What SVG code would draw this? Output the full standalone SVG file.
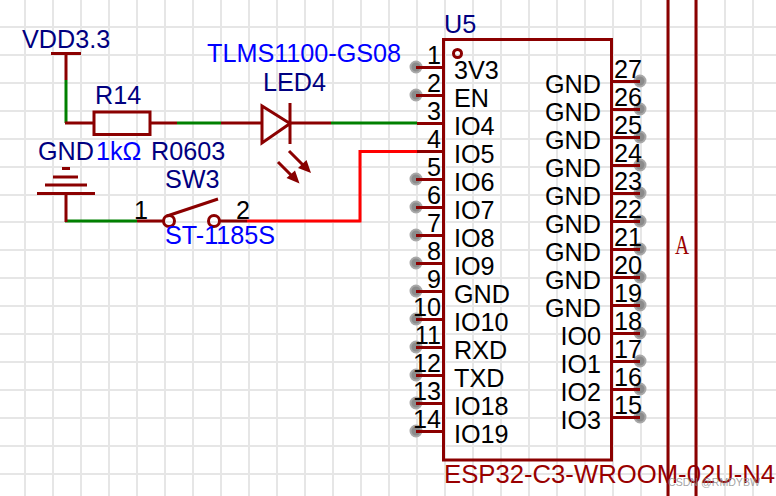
<svg xmlns="http://www.w3.org/2000/svg" width="776" height="496" viewBox="0 0 776 496">
<style>
.g{stroke:#e6e6e6;stroke-width:2;fill:none}
.w{stroke:#8b0000;stroke-width:3;fill:none}
.n{stroke:#008000;stroke-width:3;fill:none}
.r{stroke:#ff0000;stroke-width:3;fill:none}
.d{fill:#880000;stroke:none}
.c{fill:#8b8b8b;stroke:#a8a8a8;stroke-width:2}
text{font-family:"Liberation Sans",Arial,sans-serif;font-size:25.2px}
.nm{fill:#000080}.v{fill:#0000ff}.k{fill:#000}
.e{text-anchor:end}
</style>
<rect width="776" height="496" fill="#fff"/>
<g id="grid" class="g">
<path d="M25 0V496M53 0V496M81 0V496M109 0V496M137 0V496M165 0V496M193 0V496M221 0V496M249 0V496M277 0V496M305 0V496M333 0V496M361 0V496M389 0V496M417 0V496M445 0V496M473 0V496M501 0V496M529 0V496M557 0V496M585 0V496M613 0V496M641 0V496M669 0V496M697 0V496M725 0V496M753 0V496"/>
<path d="M0 27H776M0 55H776M0 83H776M0 111H776M0 139H776M0 167H776M0 195H776M0 222H776M0 250H776M0 278H776M0 306H776M0 334H776M0 362H776M0 390H776M0 418H776M0 446H776M0 474H776"/>
</g>
<g id="connectors">
<path class="w" d="M66 54V80"/><path class="n" d="M66 80V123"/><path class="w" d="M65 123H94"/>
<path class="w" d="M150 123H177"/><path class="n" d="M177 123H221"/><path class="w" d="M221 123H262"/>
<path class="w" d="M290 123H331"/><path class="n" d="M331 123H417"/>
<path class="r" d="M417 151.500H360V221H247"/>
<path class="n" d="M65 221H137"/>
</g>
<g id="vdd"><path class="w" d="M51 53.500H81"/><text class="nm" x="22" y="48">VDD3.3</text></g>
<g id="gnd"><path class="w" d="M66 193V222M37 193.500H95M45 185H87M53 177H78M62 168.500H70"/><text class="nm" x="38" y="160">GND</text></g>
<g id="r14"><rect class="w" x="94" y="112" width="56" height="22.500"/><text class="nm" x="95" y="104">R14</text><text class="v" x="96" y="160">1kΩ</text><text class="nm" x="151" y="160">R0603</text></g>
<g id="led4">
<path class="w" d="M262 106V143L290 123.500ZM290 103V144"/>
<path class="w" d="M289 151L304 166M278 162L293 177"/>
<path class="d" d="M311 173L298 168L306.500 160ZM299.500 183.500L286.500 178L295 170.500Z"/>
<text class="v" x="207" y="62">TLMS1100-GS08</text><text class="nm" x="263" y="91">LED4</text></g>
<g id="sw3">
<path class="w" d="M137 221H163M167 216L218 199M220 221H247"/>
<circle class="w" cx="169" cy="221" r="5.500"/><circle class="w" cx="214" cy="221" r="5.500"/>
<text class="nm" x="165" y="188">SW3</text><text class="k" x="134" y="219">1</text><text class="k" x="236" y="219">2</text><text class="v" x="165" y="244">ST-1185S</text></g>
<g id="u5">
<rect class="w" x="443.500" y="39.500" width="168" height="420.500"/>
<circle class="w" cx="457.500" cy="53.500" r="4"/>
<text class="nm" x="444" y="33">U5</text>
<g class="c"><circle cx="416" cy="67" r="5.500"/><circle cx="416" cy="95" r="5.500"/><circle cx="416" cy="179" r="5.500"/><circle cx="416" cy="207" r="5.500"/><circle cx="416" cy="235" r="5.500"/><circle cx="416" cy="263" r="5.500"/><circle cx="416" cy="291" r="5.500"/><circle cx="416" cy="319" r="5.500"/><circle cx="416" cy="347" r="5.500"/><circle cx="416" cy="375" r="5.500"/><circle cx="416" cy="403" r="5.500"/><circle cx="416" cy="431" r="5.500"/>
<circle cx="640" cy="81" r="5.500"/><circle cx="640" cy="109" r="5.500"/><circle cx="640" cy="137" r="5.500"/><circle cx="640" cy="165" r="5.500"/><circle cx="640" cy="193" r="5.500"/><circle cx="640" cy="221" r="5.500"/><circle cx="640" cy="249" r="5.500"/><circle cx="640" cy="277" r="5.500"/><circle cx="640" cy="305" r="5.500"/><circle cx="640" cy="333" r="5.500"/><circle cx="640" cy="361" r="5.500"/><circle cx="640" cy="389" r="5.500"/><circle cx="640" cy="417" r="5.500"/></g>
<path class="w" d="M416 67.500H444M416 95.500H444M417 123.500H444M417 151.500H444M416 179.500H444M416 207.500H444M416 235.500H444M416 263.500H444M416 291.500H444M416 319.500H444M416 347.500H444M416 375.500H444M416 403.500H444M416 431.500H444"/>
<path class="w" d="M612 81.500H640M612 109.500H640M612 137.500H640M612 165.500H640M612 193.500H640M612 221.500H640M612 249.500H640M612 277.500H640M612 305.500H640M612 333.500H640M612 361.500H640M612 389.500H640M612 417.500H640"/>
<g class="k">
<text class="e" x="441" y="64">1</text><text class="e" x="441" y="92">2</text><text class="e" x="441" y="120">3</text><text class="e" x="441" y="148">4</text><text class="e" x="441" y="176">5</text><text class="e" x="441" y="204">6</text><text class="e" x="441" y="232">7</text><text class="e" x="441" y="260">8</text><text class="e" x="441" y="288">9</text><text class="e" x="441" y="316">10</text><text class="e" x="441" y="344">11</text><text class="e" x="441" y="372">12</text><text class="e" x="441" y="400">13</text><text class="e" x="441" y="428">14</text>
<text x="614" y="78">27</text><text x="614" y="106">26</text><text x="614" y="134">25</text><text x="614" y="162">24</text><text x="614" y="190">23</text><text x="614" y="218">22</text><text x="614" y="246">21</text><text x="614" y="274">20</text><text x="614" y="302">19</text><text x="614" y="330">18</text><text x="614" y="358">17</text><text x="614" y="386">16</text><text x="614" y="414">15</text>
<text x="454" y="79">3V3</text><text x="454" y="107">EN</text><text x="454" y="135">IO4</text><text x="454" y="163">IO5</text><text x="454" y="191">IO6</text><text x="454" y="219">IO7</text><text x="454" y="247">IO8</text><text x="454" y="275">IO9</text><text x="454" y="303">GND</text><text x="454" y="331">IO10</text><text x="454" y="359">RXD</text><text x="454" y="387">TXD</text><text x="454" y="415">IO18</text><text x="454" y="443">IO19</text>
<text class="e" x="601" y="93">GND</text><text class="e" x="601" y="121">GND</text><text class="e" x="601" y="149">GND</text><text class="e" x="601" y="177">GND</text><text class="e" x="601" y="205">GND</text><text class="e" x="601" y="233">GND</text><text class="e" x="601" y="261">GND</text><text class="e" x="601" y="289">GND</text><text class="e" x="601" y="317">GND</text><text class="e" x="601" y="345">IO0</text><text class="e" x="601" y="373">IO1</text><text class="e" x="601" y="401">IO2</text><text class="e" x="601" y="429">IO3</text>
</g>
<text x="444" y="482.500" fill="#990000" style="font-size:25.7px">ESP32-C3-WROOM-02U-N4</text>
</g>
<g id="frame">
<path class="w" d="M668 0V496M696 0V496"/>
<text transform="translate(675 253.500) scale(.7 1)" style="font-family:'Liberation Serif',serif;font-size:28px" fill="#990000">A</text>
</g>
<text x="668" y="486" style="font-size:11.500px" fill="#8c8c8c" fill-opacity="0.8" textLength="92" lengthAdjust="spacingAndGlyphs">CSDN @RMDYBW</text>
</svg>
